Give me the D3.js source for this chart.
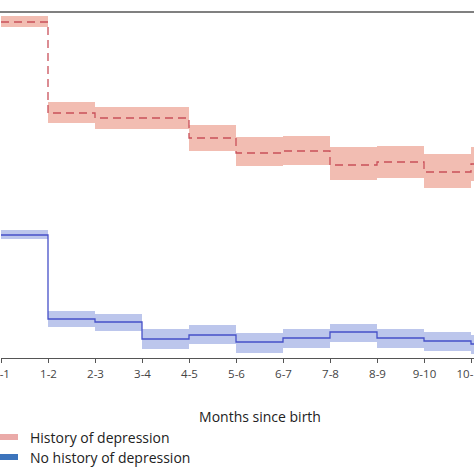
<!DOCTYPE html><html><head><meta charset="utf-8"><script src="https://cdn.jsdelivr.net/npm/d3@7"></script>
<style>body{margin:0;background:#fff}text{font-family:"Open Sans",sans-serif}</style></head><body><svg id="c" width="474" height="474"></svg>
<script>
const months=["0-1","1-2","2-3","3-4","4-5","5-6","6-7","7-8","8-9","9-10","10-11"];
const depMean=[336,245,240,240,220,205,207,193,196,186,194];
const depLo=[331,235,229,229,207,192,193,178,180,170,177];
const depHi=[342,256,251,251,233,221,222,211,212,204,211];
const noMean=[123,39,36,19,23,16,20,26,20,17,14];
const noLo=[119,31,27,9,14,5,10,16,10,7,4];
const noHi=[128,47,44,29,33,25,29,34,29,26,23];
const svg=d3.select("#c");
const x=d3.scaleLinear().domain([0,11]).range([1,518]);
const y=d3.scaleLinear().domain([0,346]).range([358,12]);
function ext(a){return a.map((v,i)=>[i,v]).concat([[a.length,a[a.length-1]]]);}
function band(lo,hi,col){
  const d=lo.map((v,i)=>({i,lo:v,hi:hi[i]}));d.push({i:lo.length,lo:lo[lo.length-1],hi:hi[hi.length-1]});
  svg.append("path").attr("d",d3.area().curve(d3.curveStepAfter).x(p=>x(p.i)).y0(p=>y(p.lo)).y1(p=>y(p.hi))(d)).attr("fill",col);
}
band(depLo,depHi,"#f2bdb2");band(noLo,noHi,"#bcc6ec");
const ln=d3.line().curve(d3.curveStepAfter).x(p=>x(p[0])).y(p=>y(p[1]));
svg.append("path").attr("d",ln(ext(depMean))).attr("fill","none").attr("stroke","#c9505a").attr("stroke-width",1.3).attr("stroke-dasharray","8,5");
svg.append("path").attr("d",ln(ext(noMean))).attr("fill","none").attr("stroke","#4650c8").attr("stroke-width",1.3);
svg.append("line").attr("x1",0).attr("x2",474).attr("y1",12).attr("y2",12).attr("stroke","#808080").attr("stroke-width",2);
const ax=svg.append("g").attr("transform","translate(0,358)").call(d3.axisBottom(x).tickValues(d3.range(11)).tickFormat(i=>months[i]).tickSize(5).tickSizeOuter(0));
ax.select(".domain").attr("stroke","#555");ax.selectAll("line").attr("stroke","#555");
ax.selectAll("text").attr("fill","#444").attr("font-size",11.5).attr("dy","1.05em");
svg.append("text").attr("x",260).attr("y",422).attr("text-anchor","middle").attr("font-size",14).attr("fill","#222").text("Months since birth");
const leg=[["History of depression","#eaaaa8"],["No history of depression","#3c74bc"]];
leg.forEach((l,i)=>{svg.append("rect").attr("x",0).attr("y",434+i*20).attr("width",18).attr("height",6).attr("fill",l[1]);
svg.append("text").attr("x",30).attr("y",443+i*20).attr("font-size",14).attr("fill","#222").text(l[0]);});
</script></body></html>
